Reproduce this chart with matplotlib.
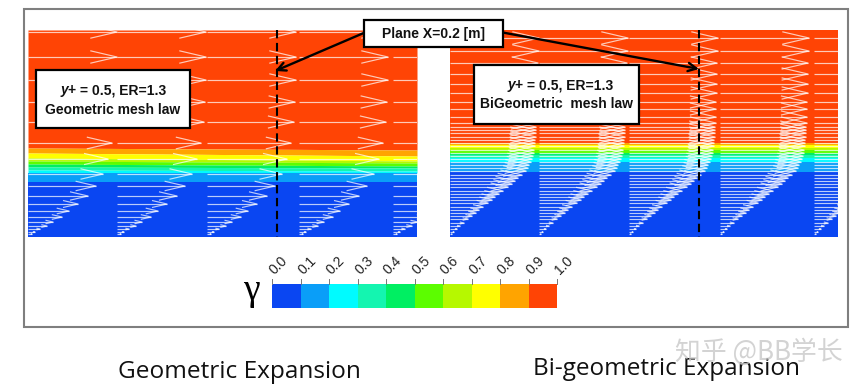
import matplotlib
matplotlib.use('Agg')
import matplotlib.pyplot as plt
from matplotlib.collections import LineCollection
from matplotlib.patches import Rectangle

plt.rcParams['font.family'] = ['Liberation Sans', 'DejaVu Sans']

# colour levels of the gamma legend
gamma_ticks = ['0.0', '0.1', '0.2', '0.3', '0.4', '0.5', '0.6', '0.7', '0.8', '0.9', '1.0']
level_colors = ['#0a46f2', '#0a9ef8', '#00fbff', '#14f5b0', '#00ef62',
                '#5cfd00', '#b6f800', '#ffff00', '#ffa400', '#ff4405']

# band edges in the left and right panel, pixel rows, top to bottom
left_edges_a = [30, 148, 153, 158, 161, 164, 167, 170, 173, 182, 237]
left_edges_b = [30, 150, 156, 161, 163, 166, 168, 171, 173, 182, 237]
left_levels = [9, 8, 7, 6, 5, 4, 3, 2, 1, 0]
right_edges = [30, 143, 145, 148, 150, 153, 155, 158, 162, 172, 237]
right_levels = [9, 8, 7, 6, 5, 4, 3, 2, 1, 0]

# vector rows: pixel row and arrow length in pixels
left_rows = [32, 57, 80, 102, 122, 143, 159, 174, 186, 196, 204, 211, 217, 222, 226, 229, 232, 234]
left_speed = [89, 89, 89, 88, 87, 84, 80, 75, 68, 60, 50, 41, 34, 25, 19, 12, 7, 4]
left_starts = [28, 117, 207, 299, 393]

right_rows = [38, 51, 63, 74, 84, 93, 102, 109, 117, 123, 127, 130, 133, 137, 140, 143, 146, 150,
              153, 156, 159, 162, 165, 168, 171, 175, 178, 181, 184, 187, 191, 194, 197, 200,
              203, 207, 210, 213, 216, 219, 223, 226, 229, 232, 234]
right_speed = [89, 89, 88, 88, 88, 88, 87, 87, 87, 87, 86, 86, 86, 86, 85, 85, 85, 84,
               84, 83, 82, 81, 79, 78, 76, 72, 68, 65, 62, 58, 53, 49, 45, 42,
               38, 33, 29, 26, 22, 18, 14, 10, 7, 4, 2]
right_starts = [450, 539, 629, 720, 814]


def draw_vectors(ax, rows, speed, starts, clip):
    segs = []
    for x0 in starts:
        for y, s in zip(rows, speed):
            tip = x0 + s
            hl = 0.3 * s
            hw = 0.07 * s
            segs.append([(x0, y), (tip, y)])
            segs.append([(tip - hl, y - hw), (tip, y), (tip - hl, y + hw)])
    lc = LineCollection(segs, colors='white', linewidths=0.85, alpha=0.72, zorder=3)
    ax.add_collection(lc)
    lc.set_clip_path(clip)


fig = plt.figure(figsize=(8.63, 3.89), dpi=100)
ax = fig.add_axes([0, 0, 1, 1])
ax.set_xlim(0, 863)
ax.set_ylim(389, 0)
ax.axis('off')

# outer frame
ax.add_patch(Rectangle((24, 9), 824, 318, fc='white', ec='#7f7f7f', lw=1.5, zorder=0))

# left panel
for i, lev in enumerate(left_levels):
    ax.fill_between([28, 417], [left_edges_a[i], left_edges_b[i]],
                    [left_edges_a[i + 1], left_edges_b[i + 1]],
                    color=level_colors[lev], lw=0, zorder=1)
clip_l = Rectangle((28, 30), 389, 207, transform=ax.transData)
draw_vectors(ax, left_rows, left_speed, left_starts, clip_l)

# right panel
for i, lev in enumerate(right_levels):
    ax.fill_between([450, 838], right_edges[i], right_edges[i + 1],
                    color=level_colors[lev], lw=0, zorder=1)
clip_r = Rectangle((450, 30), 388, 207, transform=ax.transData)
draw_vectors(ax, right_rows, right_speed, right_starts, clip_r)

# plane X=0.2 markers
ax.plot([277, 277], [30, 237], color='black', lw=1.5, ls=(0, (4, 2.2)), zorder=4)
ax.plot([699, 699], [30, 237], color='black', lw=1.5, ls=(0, (4, 2.2)), zorder=4)

ax.annotate('', xy=(275, 71), xytext=(366, 32), zorder=6,
            arrowprops=dict(arrowstyle='->', color='black', lw=1.7, shrinkA=0, shrinkB=0,
                            mutation_scale=15))
ax.annotate('', xy=(699, 69), xytext=(500, 32), zorder=6,
            arrowprops=dict(arrowstyle='->', color='black', lw=1.7, shrinkA=0, shrinkB=0,
                            mutation_scale=15))

# label boxes
box = dict(fc='white', ec='black', lw=1.6, zorder=7)
ax.add_patch(Rectangle((364, 20), 139, 27, **box))
ax.add_patch(Rectangle((36, 70), 154, 58, **box))
ax.add_patch(Rectangle((474, 65), 165, 59, **box))

bold = dict(fontsize=10, fontweight='bold', color='#111111', va='center', zorder=8)
ax.text(433.5, 33.5, 'Plane X=0.2 [m]', ha='center', **bold)
ax.text(76, 90, 'y+', ha='right', style='italic', **bold)
ax.text(76, 90, ' = 0.5, ER=1.3', ha='left', **bold)
ax.text(113, 110, 'Geometric mesh law', ha='center', **bold)
ax.text(523, 85, 'y+', ha='right', style='italic', **bold)
ax.text(523, 85, ' = 0.5, ER=1.3', ha='left', **bold)
ax.text(556, 104, 'BiGeometric  mesh law', ha='center', **bold)

# gamma legend
bar_vals = list(range(len(level_colors)))
bar_x0, bar_w = 272, 28.5
for v in bar_vals:
    ax.add_patch(Rectangle((bar_x0 + v * bar_w, 284), bar_w, 24,
                           fc=level_colors[v], ec='none', zorder=2))
for i, lab in enumerate(gamma_ticks):
    xt = bar_x0 + i * bar_w
    ax.plot([xt, xt], [279, 284], color='#777777', lw=0.7, zorder=2)
    ax.text(xt + 5, 277, lab, rotation=45, ha='left', va='bottom', fontsize=10,
            color='#222222', rotation_mode='anchor')
ax.text(251, 291, 'γ', fontsize=27, family='Liberation Serif', ha='center', va='center', color='black')

# captions
ax.text(118, 372, 'Geometric Expansion', fontsize=17.6, family='Open Sans', ha='left', va='center',
        color='#111111')
ax.text(533, 369, 'Bi-geometric Expansion', fontsize=17.5, family='Open Sans', ha='left', va='center',
        color='#111111')

# watermark
ax.text(675, 352, '知乎 @BB学长', fontsize=18.6, family=['Noto Sans CJK SC', 'DejaVu Sans'],
        ha='left', va='center', color='#c8c8c8', alpha=0.8, zorder=9)

fig.savefig('out.png', dpi=100)
